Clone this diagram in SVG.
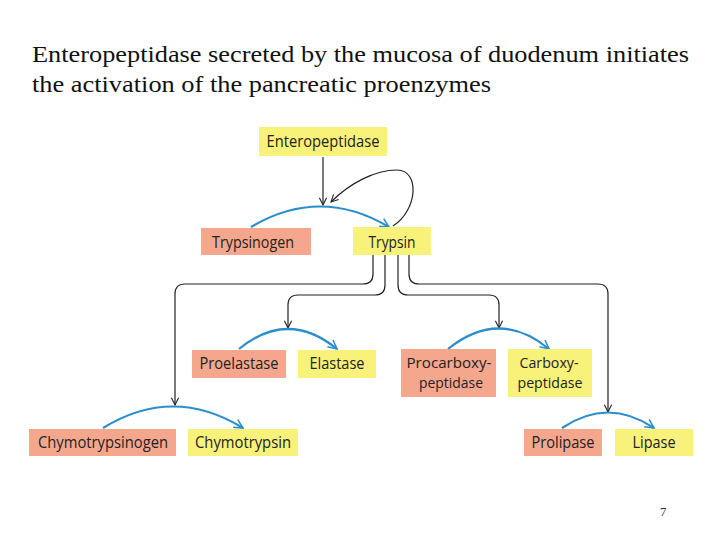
<svg xmlns="http://www.w3.org/2000/svg" width="728" height="546" viewBox="0 0 728 546">
<defs>
<style>
.title{font-family:"Liberation Serif","Times New Roman",serif;font-size:24px;fill:#111}
.lbl{font-family:"Open Sans","Liberation Sans",sans-serif;font-size:16px;fill:#222;text-anchor:middle}
.lbl2{font-family:"Open Sans","Liberation Sans",sans-serif;font-size:14.5px;fill:#222;text-anchor:middle}
.pro{fill:#F5A78D}
.act{fill:#F8F27A}
.blk{fill:none;stroke:#222;stroke-width:1.2}
.blue{fill:none;stroke:#2B8ECC;stroke-width:2.2}
</style>
<marker id="ab" viewBox="0 0 10 10" refX="9" refY="5" markerWidth="9" markerHeight="9" markerUnits="userSpaceOnUse" orient="auto">
<path d="M1,1 L9,5 L1,9" fill="none" stroke="#222" stroke-width="1.2"/>
</marker>
<marker id="au" viewBox="0 0 10 10" refX="9" refY="5" markerWidth="11" markerHeight="11" markerUnits="userSpaceOnUse" orient="auto">
<path d="M1,1 L9,5 L1,9" fill="none" stroke="#2B8ECC" stroke-width="1.4"/>
</marker>
</defs>
<rect width="728" height="546" fill="#fff"/>
<g id="title">
<text class="title" x="32" y="62" textLength="657" lengthAdjust="spacingAndGlyphs">Enteropeptidase secreted by the mucosa of duodenum initiates</text>
<text class="title" x="32" y="92" textLength="459" lengthAdjust="spacingAndGlyphs">the activation of the pancreatic proenzymes</text>
</g>
<g id="connectors">
<path class="blk" d="M323,157 V205" marker-end="url(#ab)"/>
<path class="blk" d="M393,226 C418,210 420,170 397,170 C375,170 350,183 331,202" marker-end="url(#ab)"/>
<path class="blue" d="M251,227 Q320,186 389,227" marker-end="url(#au)"/>
<path class="blk" d="M373,255 V274 Q373,284 363,284 H185 Q175,284 175,294 V405" marker-end="url(#ab)"/>
<path class="blk" d="M385,255 V285 Q385,295 375,295 H298 Q288,295 288,305 V328" marker-end="url(#ab)"/>
<path class="blk" d="M398,255 V285 Q398,295 408,295 H489 Q499,295 499,305 V328" marker-end="url(#ab)"/>
<path class="blk" d="M409,255 V274 Q409,284 419,284 H598 Q608,284 608,294 V412" marker-end="url(#ab)"/>
<path class="blue" d="M239,349 Q288,309 337,349" marker-end="url(#au)"/>
<path class="blue" d="M448,349 Q499,308 549,349" marker-end="url(#au)"/>
<path class="blue" d="M103,428 Q173,385 243,428" marker-end="url(#au)"/>
<path class="blue" d="M562,428 Q608,397 654,428" marker-end="url(#au)"/>
</g>
<g id="enteropeptidase"><rect class="act" x="259" y="127" width="128" height="29"/><text class="lbl" x="323" y="147" textLength="113" lengthAdjust="spacingAndGlyphs">Enteropeptidase</text></g>
<g id="trypsinogen"><rect class="pro" x="201" y="228" width="110" height="27"/><text class="lbl" x="253" y="248" textLength="82" lengthAdjust="spacingAndGlyphs">Trypsinogen</text></g>
<g id="trypsin"><rect class="act" x="353" y="227" width="78" height="28"/><text class="lbl" x="392" y="248" textLength="47" lengthAdjust="spacingAndGlyphs">Trypsin</text></g>
<g id="proelastase"><rect class="pro" x="192" y="350" width="94" height="28"/><text class="lbl" x="239" y="369" textLength="79" lengthAdjust="spacingAndGlyphs">Proelastase</text></g>
<g id="elastase"><rect class="act" x="298" y="350" width="78" height="28"/><text class="lbl" x="337" y="369" textLength="55" lengthAdjust="spacingAndGlyphs">Elastase</text></g>
<g id="procarboxypeptidase"><rect class="pro" x="401" y="349" width="95" height="48"/><text class="lbl2" x="449" y="368" textLength="85" lengthAdjust="spacingAndGlyphs">Procarboxy-</text><text class="lbl2" x="451" y="388" textLength="64" lengthAdjust="spacingAndGlyphs">peptidase</text></g>
<g id="carboxypeptidase"><rect class="act" x="508" y="349" width="84" height="48"/><text class="lbl2" x="549" y="368" textLength="59" lengthAdjust="spacingAndGlyphs">Carboxy-</text><text class="lbl2" x="550" y="388" textLength="65" lengthAdjust="spacingAndGlyphs">peptidase</text></g>
<g id="chymotrypsinogen"><rect class="pro" x="29" y="429" width="147" height="27"/><text class="lbl" x="103" y="448" textLength="130" lengthAdjust="spacingAndGlyphs">Chymotrypsinogen</text></g>
<g id="chymotrypsin"><rect class="act" x="188" y="429" width="110" height="27"/><text class="lbl" x="243" y="448" textLength="96" lengthAdjust="spacingAndGlyphs">Chymotrypsin</text></g>
<g id="prolipase"><rect class="pro" x="524" y="429" width="78" height="27"/><text class="lbl" x="563" y="448" textLength="63" lengthAdjust="spacingAndGlyphs">Prolipase</text></g>
<g id="lipase"><rect class="act" x="615" y="429" width="78" height="27"/><text class="lbl" x="654" y="448" textLength="43" lengthAdjust="spacingAndGlyphs">Lipase</text></g>
<text x="660" y="516" style="font-family:'Liberation Serif',serif;font-size:13px;fill:#333">7</text>
</svg>
